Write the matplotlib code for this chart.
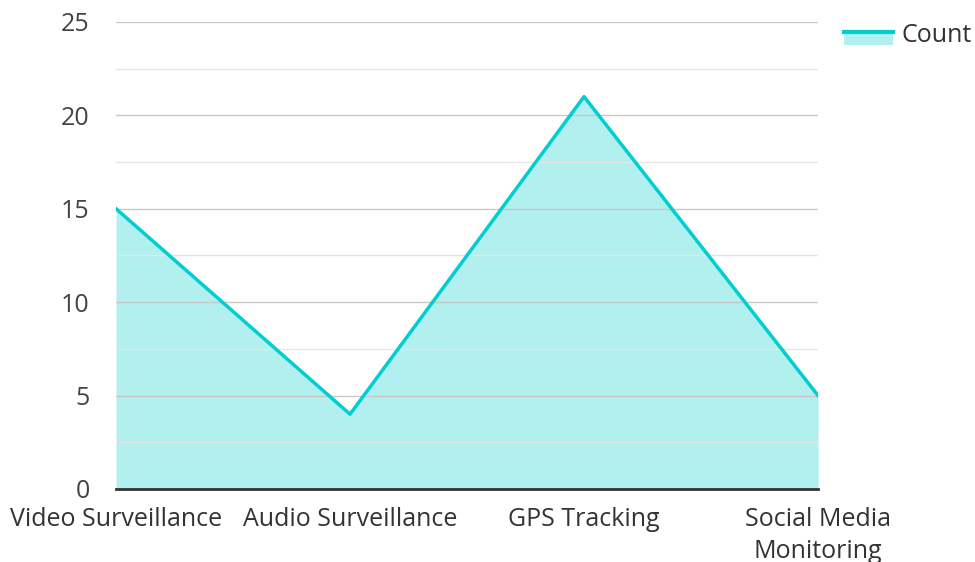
import numpy as np
import matplotlib.pyplot as plt
from matplotlib.patches import Rectangle
from matplotlib.lines import Line2D

categories = ["Video Surveillance", "Audio Surveillance", "GPS Tracking", "Social Media\nMonitoring"]
counts = [15, 4, 21, 5]
series_name = "Count"

line_color = "#00CED1"
fill_color = "#B2EFEF"

plt.rcParams['font.family'] = ['Open Sans', 'DejaVu Sans']


class FillLineHandler:
    # legend key: light fill block with the series line along its top
    def legend_artist(self, legend, orig_handle, fontsize, handlebox):
        x0, y0 = handlebox.xdescent, handlebox.ydescent
        w, h = handlebox.width, handlebox.height
        top = y0 + h * 0.6
        tr = handlebox.get_transform()
        patch = Rectangle((x0, y0 - h * 0.15), w, top - (y0 - h * 0.15),
                          facecolor=fill_color, edgecolor='none', transform=tr)
        line = Line2D([x0, x0 + w], [top, top], color=line_color, linewidth=3, transform=tr)
        handlebox.add_artist(patch)
        handlebox.add_artist(line)
        return patch


fig = plt.figure(figsize=(9.75, 5.62), dpi=100)
ax = fig.add_axes([0.119, 0.130, 0.720, 0.831])

x = np.arange(len(categories))
ax.fill_between(x, counts, 0, color=fill_color, linewidth=0, zorder=1)
ax.plot(x, counts, color=line_color, linewidth=2.5, zorder=3)

ax.set_xlim(0, len(categories) - 1)
ax.set_ylim(0, 25)
ax.set_yticks(np.arange(0, 26, 5))
ax.set_yticks(np.arange(2.5, 25, 5), minor=True)
ax.set_xticks(x)
ax.set_xticklabels(categories, linespacing=1.35)

ax.grid(axis='y', which='major', color='#c8c8c8', linewidth=1.0, zorder=1.5)
ax.grid(axis='y', which='minor', color='#e6e6e6', linewidth=1.0, zorder=1.5)
ax.grid(axis='x', visible=False)

for side in ['top', 'right', 'left']:
    ax.spines[side].set_visible(False)
ax.spines['bottom'].set_color('#333333')
ax.spines['bottom'].set_linewidth(2)
ax.spines['bottom'].set_zorder(4)

ax.tick_params(axis='both', which='both', length=0, labelsize=18, labelcolor='#333333')
ax.tick_params(axis='y', pad=19, labelcolor='#444444')
ax.tick_params(axis='x', pad=13)

ax.legend([object()], [series_name], handler_map={object: FillLineHandler()},
          loc='upper left', bbox_to_anchor=(1.016, 1.029), frameon=False, fontsize=18,
          handlelength=1.95, handletextpad=0.35, labelcolor='#333333', borderaxespad=0.2)

plt.savefig('out.png', dpi=100)
